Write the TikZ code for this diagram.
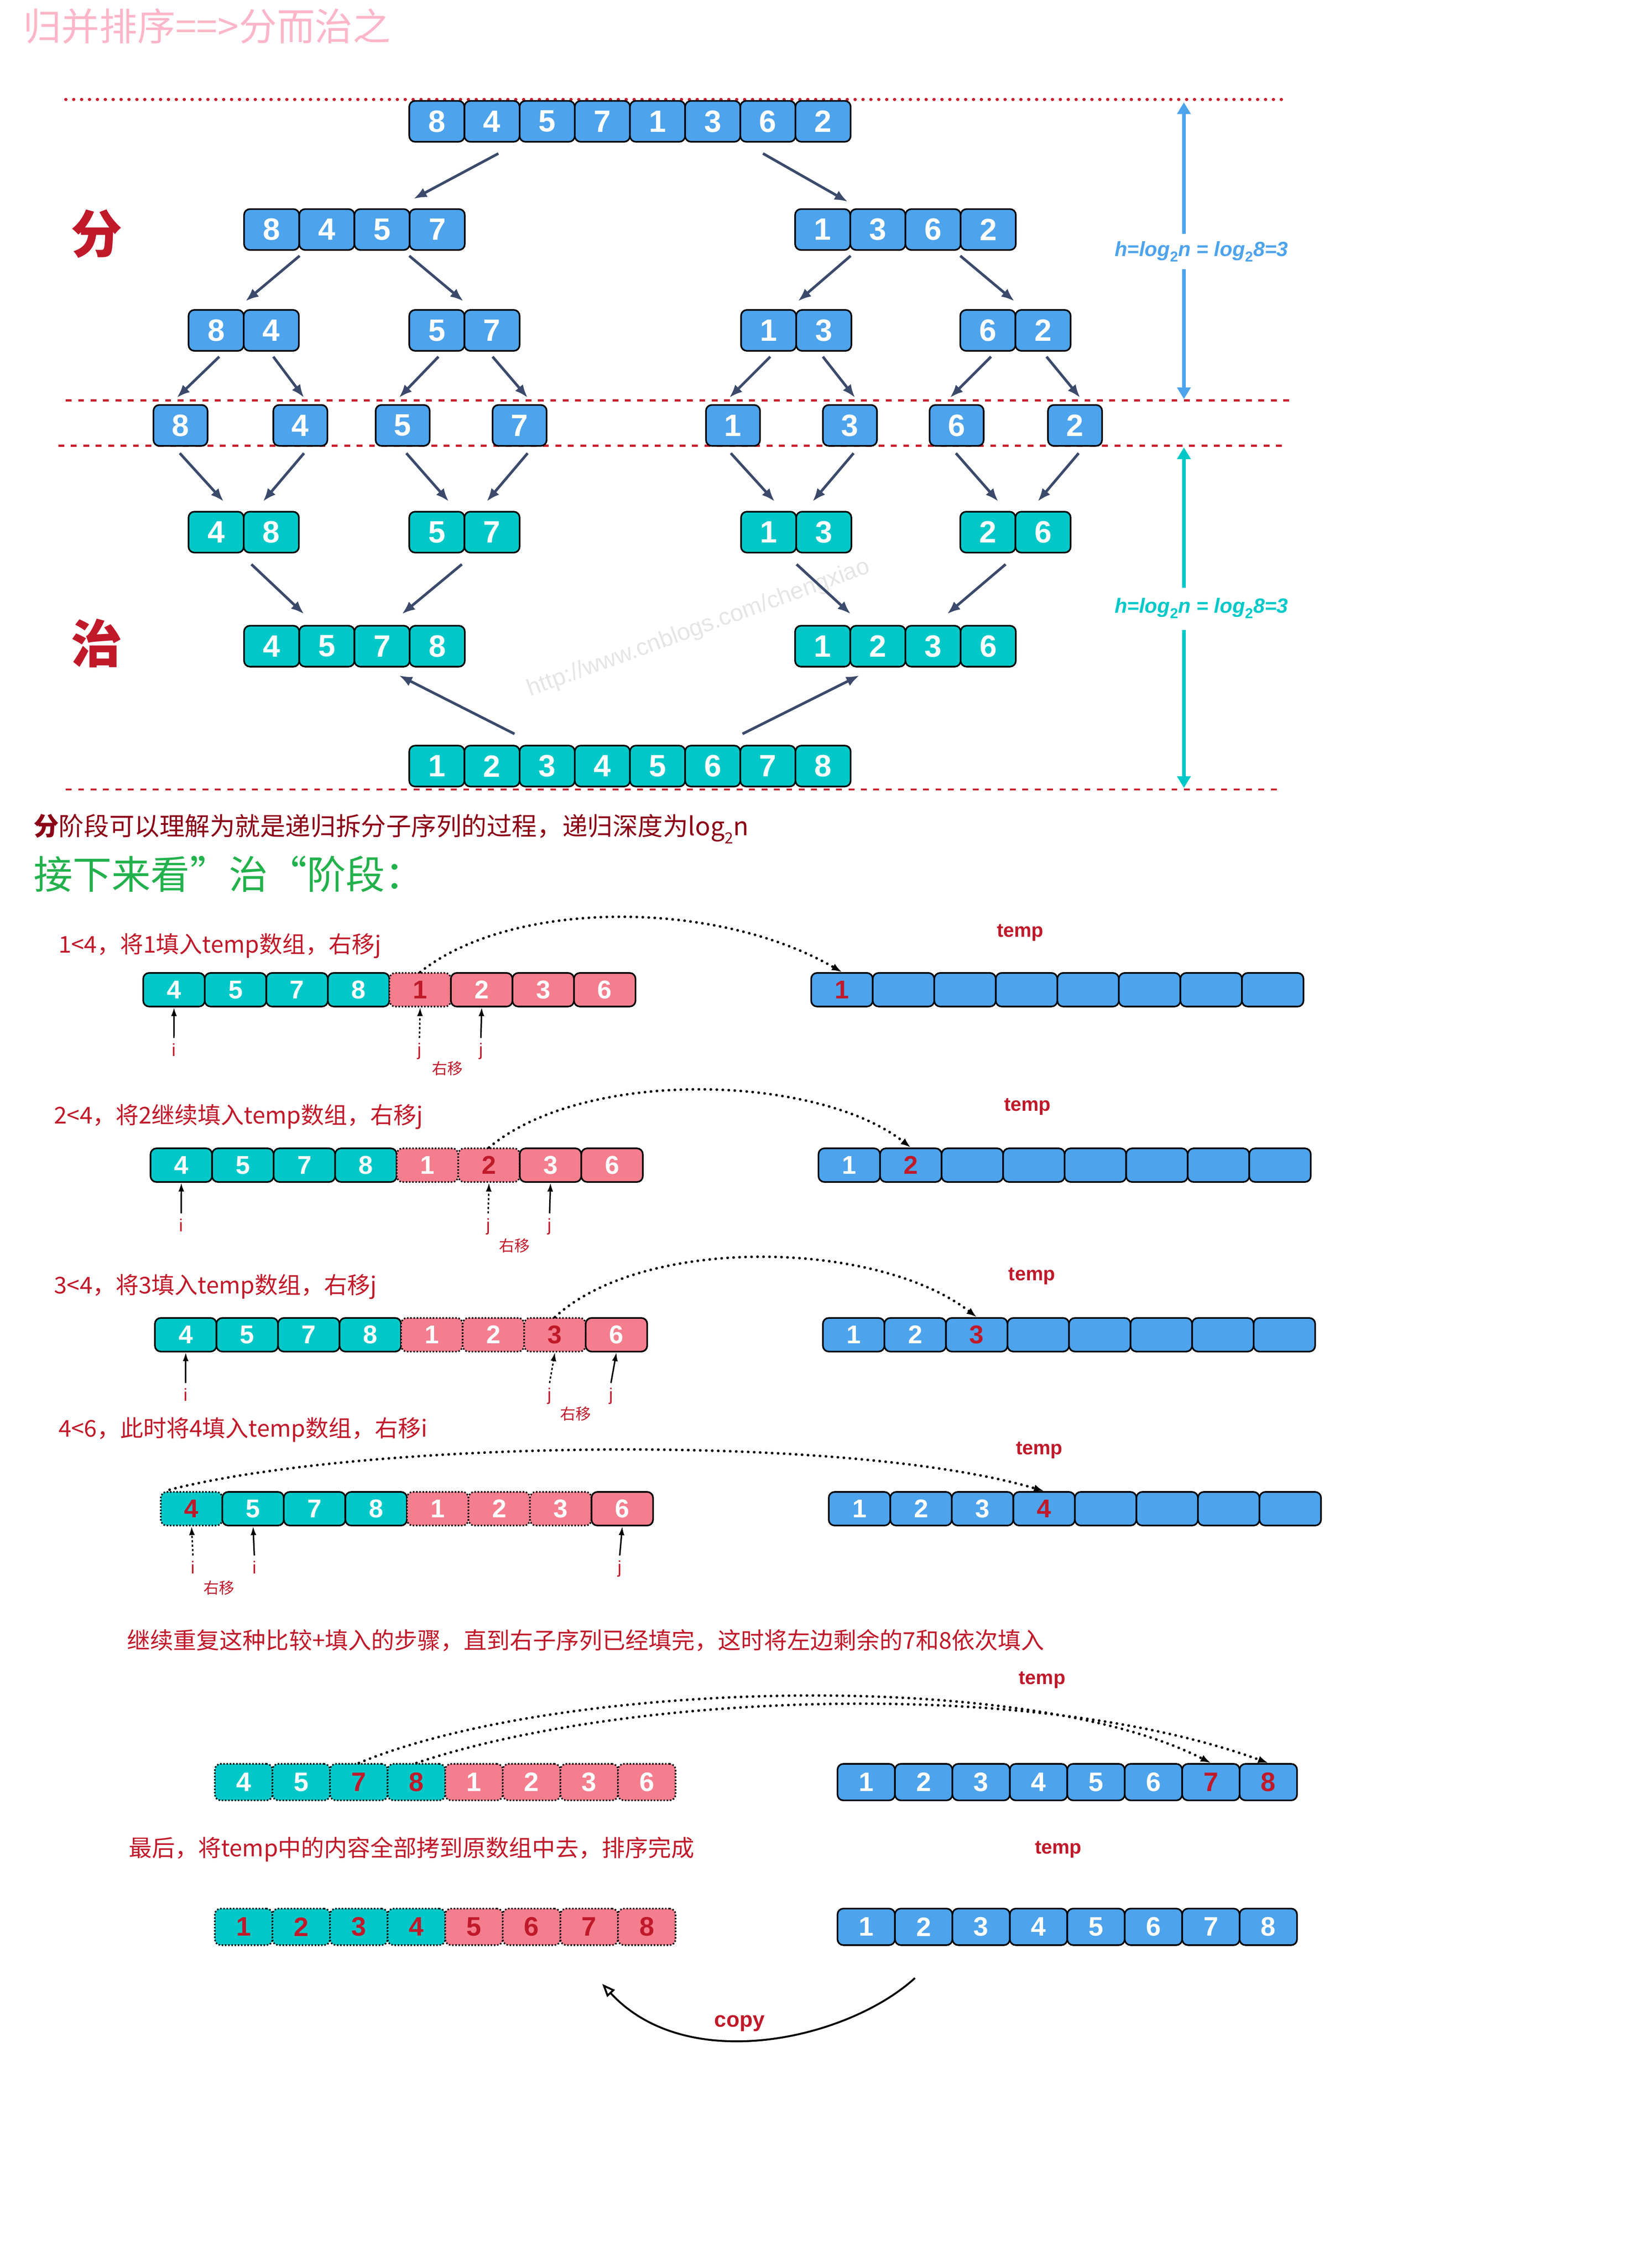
\documentclass[tikz,border=0pt]{standalone}
\usepackage{fontspec}
\setmainfont{Liberation Sans}
\newfontfamily\cjk{Noto Sans CJK SC}
\usetikzlibrary{arrows.meta}
\definecolor{cblue}{HTML}{4DA3EC}
\definecolor{cteal}{HTML}{00C8C8}
\definecolor{cpink}{HTML}{F47E8E}
\definecolor{cred}{HTML}{C0192A}
\definecolor{cdark}{HTML}{3B4A6B}
\definecolor{cdred}{HTML}{8B0016}
\definecolor{cgreen}{HTML}{22B14C}
\definecolor{ctitle}{HTML}{FFB6C8}
\definecolor{cline}{HTML}{C8202E}
\newcommand\fs[1]{\fontsize{#1}{#1}\selectfont}
\newcommand\cellrow[7]{%
  \edef\mylist{#6}%
  \foreach \lab/\fc/\tc/\bs [count=\i] in \mylist {
    \node[draw=black, line width=1.1mm, rounded corners=4mm, fill=\fc, text=\tc, \bs,
      minimum width=#4 mm, minimum height=#5 mm, inner sep=0pt,
      font=\bfseries #7] (#1\i) at ({#2+(\i-0.5)*#4}, #3) {\lab};
  }}
\def\B{cblue/white/solid}
\def\T{cteal/white/solid}
\def\tq{cteal/white/solid}
\def\pk{cpink/white/solid}
\def\E{/cblue/white/solid}
\tikzset{
  dotb/.style={dash pattern=on 1mm off 1.2mm},
  tarrow/.style={cdark, line width=1.8mm, -{Latex[length=9mm,width=7mm]}},
  ptr/.style={black, line width=1mm, -{Latex[length=6mm,width=4mm]}},
  ptrd/.style={ptr, dash pattern=on 1.5mm off 1.5mm},
  curv/.style={black, line width=1.8mm, line cap=round, dash pattern=on 0.1mm off 4mm, -{Latex[length=7mm,width=5mm]}},
  lbl/.style={text=cred, font=\cjk\fs{45}, anchor=west, inner sep=0pt},
  tmp/.style={text=cred, font=\bfseries\fs{38}, inner sep=0pt},
  sep/.style={cline, line width=1.5mm, dash pattern=on 4mm off 4.5mm},
}
\begin{document}
\begin{tikzpicture}[x=1mm,y=-1mm]
\useasboundingbox (0,0) rectangle (1130,1550);
% title
\node[text=ctitle, font=\cjk\fs{74}, anchor=west, inner sep=0pt] (title) at (16,18) {归并排序==>分而治之};
% separators
\draw[sep, line cap=round, dash pattern=on 0.1mm off 5.3mm, line width=2.2mm] (45,68) -- (882,68);
\draw[sep] (45,274) -- (882,274);
\draw[sep] (40,305) -- (880,305);
\draw[sep] (45,540) -- (875,540);
% big characters
\node[text=cred, font=\cjk\bfseries\fs{100}] (fen) at (66,160) {分};
\node[text=cred, font=\cjk\bfseries\fs{100}] (zhi) at (66,440) {治};
% watermark
\node[text=black!10, font=\fs{46}, rotate=20] (wm) at (478,430) {http://www.cnblogs.com/chengxiao};
% divide tree
\cellrow{a}{280}{83}{37.75}{28}{8/\B,4/\B,5/\B,7/\B,1/\B,3/\B,6/\B,2/\B}{\fs{60}}
\cellrow{b}{167}{157}{37.75}{28}{8/\B,4/\B,5/\B,7/\B}{\fs{60}}
\cellrow{c}{544}{157}{37.75}{28}{1/\B,3/\B,6/\B,2/\B}{\fs{60}}
\cellrow{d}{129}{226}{37.75}{28}{8/\B,4/\B}{\fs{60}}
\cellrow{e}{280}{226}{37.75}{28}{5/\B,7/\B}{\fs{60}}
\cellrow{f}{507}{226}{37.75}{28}{1/\B,3/\B}{\fs{60}}
\cellrow{g}{657}{226}{37.75}{28}{6/\B,2/\B}{\fs{60}}
\cellrow{s1}{105}{291}{37}{28}{8/\B}{\fs{60}}
\cellrow{s2}{187}{291}{37}{28}{4/\B}{\fs{60}}
\cellrow{s3}{257}{291}{37}{28}{5/\B}{\fs{60}}
\cellrow{s4}{337}{291}{37}{28}{7/\B}{\fs{60}}
\cellrow{s5}{483}{291}{37}{28}{1/\B}{\fs{60}}
\cellrow{s6}{563}{291}{37}{28}{3/\B}{\fs{60}}
\cellrow{s7}{636}{291}{37}{28}{6/\B}{\fs{60}}
\cellrow{s8}{717}{291}{37}{28}{2/\B}{\fs{60}}
% merge tree
\cellrow{m}{129}{364}{37.75}{28}{4/\T,8/\T}{\fs{60}}
\cellrow{n}{280}{364}{37.75}{28}{5/\T,7/\T}{\fs{60}}
\cellrow{o}{507}{364}{37.75}{28}{1/\T,3/\T}{\fs{60}}
\cellrow{p}{657}{364}{37.75}{28}{2/\T,6/\T}{\fs{60}}
\cellrow{q}{167}{442}{37.75}{28}{4/\T,5/\T,7/\T,8/\T}{\fs{60}}
\cellrow{r}{544}{442}{37.75}{28}{1/\T,2/\T,3/\T,6/\T}{\fs{60}}
\cellrow{z}{280}{524}{37.75}{28}{1/\T,2/\T,3/\T,4/\T,5/\T,6/\T,7/\T,8/\T}{\fs{60}}
% tree arrows
\draw[tarrow] (341,105) -- (283,136);
\draw[tarrow] (522,105) -- (580,138);
\draw[tarrow] (205,175) -- (168,206);
\draw[tarrow] (280,175) -- (317,206);
\draw[tarrow] (582,175) -- (546,206);
\draw[tarrow] (657,175) -- (694,206);
\draw[tarrow] (150,244) -- (121,272);
\draw[tarrow] (187,244) -- (208,272);
\draw[tarrow] (300,244) -- (273,272);
\draw[tarrow] (337,244) -- (361,272);
\draw[tarrow] (527,244) -- (499,272);
\draw[tarrow] (563,244) -- (585,272);
\draw[tarrow] (678,244) -- (650,272);
\draw[tarrow] (716,244) -- (739,272);
\draw[tarrow] (123,310) -- (153,343);
\draw[tarrow] (208,310) -- (180,343);
\draw[tarrow] (278,310) -- (307,343);
\draw[tarrow] (361,310) -- (333,343);
\draw[tarrow] (500,310) -- (530,343);
\draw[tarrow] (584,310) -- (556,343);
\draw[tarrow] (654,310) -- (683,343);
\draw[tarrow] (738,310) -- (710,343);
\draw[tarrow] (172,386) -- (208,420);
\draw[tarrow] (316,386) -- (275,420);
\draw[tarrow] (545,386) -- (582,420);
\draw[tarrow] (688,386) -- (648,420);
\draw[tarrow] (352,502) -- (273,462);
\draw[tarrow] (508,502) -- (588,462);
% height arrows
\node[text=cblue, font=\bfseries\itshape\fs{40}] (h1) at (822,172) {h=log$_{\mathbf 2}$n = log$_{\mathbf 2}$8=3};
\node[text=cteal, font=\bfseries\itshape\fs{40}] (h2) at (822,416) {h=log$_{\mathbf 2}$n = log$_{\mathbf 2}$8=3};
\coordinate (h1t) at (810,160);
\coordinate (h1b) at (810,184);
\coordinate (h2t) at (810,402);
\coordinate (h2b) at (810,431);
\draw[cblue, line width=2.3mm, -{Triangle[length=8mm,width=9mm]}] (h1t) -- (810,70);
\draw[cblue, line width=2.3mm, -{Triangle[length=8mm,width=9mm]}] (h1b) -- (810,273);
\draw[cteal, line width=2.3mm, -{Triangle[length=8mm,width=9mm]}] (h2t) -- (810,306);
\draw[cteal, line width=2.3mm, -{Triangle[length=8mm,width=9mm]}] (h2b) -- (810,539);
% explanation
\node[text=cdred, font=\cjk\fs{49}, anchor=west, inner sep=0pt] (ex1) at (23,567) {\textbf{分}阶段可以理解为就是递归拆分子序列的过程，递归深度为log\raisebox{-0.6ex}{\fs{30}2}n};
\node[text=cgreen, font=\cjk\fs{76}, anchor=west, inner sep=0pt] (ex2) at (23,598) {接下来看”治“阶段：};
% ---------- row 1
\node[lbl] (l1) at (40,647) {1<4，将1填入temp数组，右移j};
\cellrow{A}{98}{677}{42.1}{23}{4/\tq,5/\tq,7/\tq,8/\tq,1/cpink/cred/dotb,2/\pk,3/\pk,6/\pk}{\fs{50}}
\cellrow{P}{555}{677}{42.1}{23}{1/cblue/cred/solid,\E,\E,\E,\E,\E,\E,\E}{\fs{50}}
\node[tmp] (tp1) at (698,638) {temp};
\coordinate (i1) at (119,710);
\coordinate (j1) at (287,710);
\coordinate (k1) at (329,710);
\draw[ptr] (i1) -- (A1.south);
\draw[ptrd] (j1) -- (A5.south);
\draw[ptr] (k1) -- (A6.south);
\node[text=cred, font=\fs{34}] at (119,718) {i};
\node[text=cred, font=\fs{34}] at (287,719) {j};
\node[text=cred, font=\fs{34}] at (329,719) {j};
\node[text=cred, font=\cjk\fs{30}] at (306,731) {右移};
\draw[curv] (A5.north) .. controls (350,615) and (490,615) .. (P1.north);
% ---------- row 2
\node[lbl] (l2) at (37,764) {2<4，将2继续填入temp数组，右移j};
\cellrow{B}{103}{797}{42.1}{23}{4/\tq,5/\tq,7/\tq,8/\tq,1/cpink/white/dotb,2/cpink/cred/dotb,3/\pk,6/\pk}{\fs{50}}
\cellrow{Q}{560}{797}{42.1}{23}{1/cblue/white/solid,2/cblue/cred/solid,\E,\E,\E,\E,\E,\E}{\fs{50}}
\node[tmp] (tp2) at (703,757) {temp};
\coordinate (i2) at (124,830);
\coordinate (j2) at (334,830);
\coordinate (k2) at (376,830);
\draw[ptr] (i2) -- (B1.south);
\draw[ptrd] (j2) -- (B6.south);
\draw[ptr] (k2) -- (B7.south);
\node[text=cred, font=\fs{34}] at (124,838) {i};
\node[text=cred, font=\fs{34}] at (334,839) {j};
\node[text=cred, font=\fs{34}] at (376,839) {j};
\node[text=cred, font=\cjk\fs{30}] at (352,852) {右移};
\draw[curv] (B6.north) .. controls (400,730) and (560,735) .. (Q2.north);
% ---------- row 3
\node[lbl] (l3) at (37,880) {3<4，将3填入temp数组，右移j};
\cellrow{C}{106}{913}{42.1}{23}{4/\tq,5/\tq,7/\tq,8/\tq,1/cpink/white/dotb,2/cpink/white/dotb,3/cpink/cred/dotb,6/\pk}{\fs{50}}
\cellrow{R}{563}{913}{42.1}{23}{1/cblue/white/solid,2/cblue/white/solid,3/cblue/cred/solid,\E,\E,\E,\E,\E}{\fs{50}}
\node[tmp] (tp3) at (706,873) {temp};
\coordinate (i3) at (127,946);
\coordinate (j3) at (376,946);
\coordinate (k3) at (418,946);
\draw[ptr] (i3) -- (C1.south);
\draw[ptrd] (j3) -- (C7.south);
\draw[ptr] (k3) -- (C8.south);
\node[text=cred, font=\fs{34}] at (127,954) {i};
\node[text=cred, font=\fs{34}] at (376,955) {j};
\node[text=cred, font=\fs{34}] at (418,955) {j};
\node[text=cred, font=\cjk\fs{30}] at (394,967) {右移};
\draw[curv] (C7.north) .. controls (440,845) and (600,848) .. (R3.north);
% ---------- row 4
\node[lbl] (l4) at (40,978) {4<6，此时将4填入temp数组，右移i};
\cellrow{D}{110}{1032}{42.1}{23}{4/cteal/cred/dotb,5/\tq,7/\tq,8/\tq,1/cpink/white/dotb,2/cpink/white/dotb,3/cpink/white/dotb,6/\pk}{\fs{50}}
\cellrow{S}{567}{1032}{42.1}{23}{1/cblue/white/solid,2/cblue/white/solid,3/cblue/white/solid,4/cblue/cred/solid,\E,\E,\E,\E}{\fs{50}}
\node[tmp] (tp4) at (711,992) {temp};
\coordinate (i4) at (132,1064);
\coordinate (j4) at (174,1064);
\coordinate (k4) at (424,1064);
\draw[ptrd] (i4) -- (D1.south);
\draw[ptr] (j4) -- (D2.south);
\draw[ptr] (k4) -- (D8.south);
\node[text=cred, font=\fs{34}] at (132,1072) {i};
\node[text=cred, font=\fs{34}] at (174,1072) {i};
\node[text=cred, font=\fs{34}] at (424,1073) {j};
\node[text=cred, font=\cjk\fs{30}] at (150,1086) {右移};
\coordinate (d0) at (116,1019);
\draw[curv] (d0) .. controls (250,985) and (580,980) .. (S4.north);
% ---------- row 5
\node[lbl] (l5) at (87,1122) {继续重复这种比较+填入的步骤，直到右子序列已经填完，这时将左边剩余的7和8依次填入};
\node[tmp] (tp5) at (713,1149) {temp};
\cellrow{E}{147}{1219}{39.4}{25}{4/cteal/white/dotb,5/cteal/white/dotb,7/cteal/cred/dotb,8/cteal/cred/dotb,1/cpink/white/dotb,2/cpink/white/dotb,3/cpink/white/dotb,6/cpink/white/dotb}{\fs{52}}
\cellrow{U}{573}{1219}{39.3}{25}{1/cblue/white/solid,2/cblue/white/solid,3/cblue/white/solid,4/cblue/white/solid,5/cblue/white/solid,6/cblue/white/solid,7/cblue/cred/solid,8/cblue/cred/solid}{\fs{52}}
\draw[curv] (E3.north) .. controls (380,1150) and (700,1140) .. (U7.north);
\draw[curv] (E4.north) .. controls (420,1160) and (700,1145) .. (U8.north);
% ---------- row 6
\node[lbl] (l6) at (88,1265) {最后，将temp中的内容全部拷到原数组中去，排序完成};
\node[tmp] (tp6) at (724,1265) {temp};
\cellrow{F}{147}{1318}{39.4}{25}{1/cteal/cred/dotb,2/cteal/cred/dotb,3/cteal/cred/dotb,4/cteal/cred/dotb,5/cpink/cred/dotb,6/cpink/cred/dotb,7/cpink/cred/dotb,8/cpink/cred/dotb}{\fs{52}}
\cellrow{V}{573}{1318}{39.3}{25}{1/cblue/white/solid,2/cblue/white/solid,3/cblue/white/solid,4/cblue/white/solid,5/cblue/white/solid,6/cblue/white/solid,7/cblue/white/solid,8/cblue/white/solid}{\fs{52}}
\coordinate (cs) at (626,1353);
\coordinate (ce) at (412,1357);
\draw[black, line width=1.3mm, -{Triangle[open,length=9mm,width=7mm]}] (cs) .. controls (580,1395) and (470,1420) .. (ce);
\node[text=cred, font=\bfseries\fs{42}] (copy) at (506,1384) {copy};
\end{tikzpicture}
\end{document}
